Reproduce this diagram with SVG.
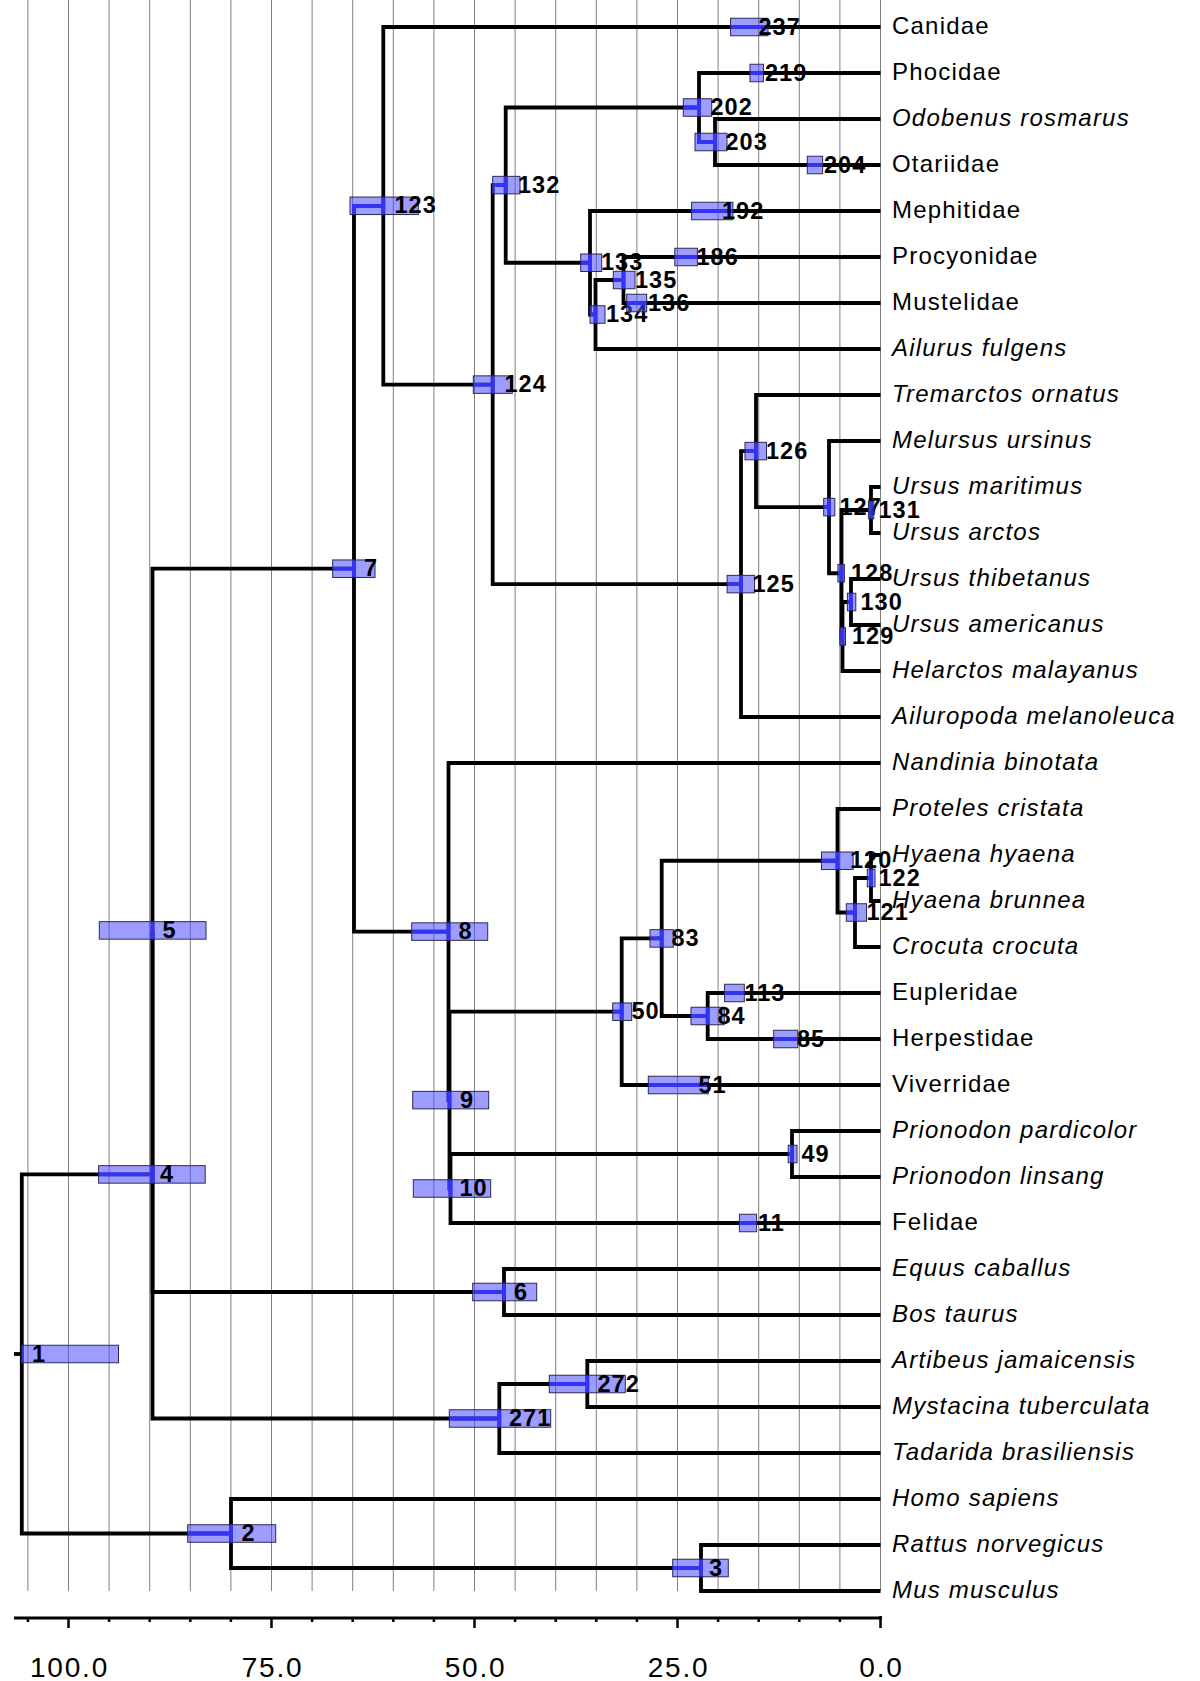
<svg xmlns="http://www.w3.org/2000/svg" xmlns:xlink="http://www.w3.org/1999/xlink" width="1200" height="1681" viewBox="0 0 1200 1681">
<style>
.grid line{stroke:#808080;stroke-width:1}
.hpd{fill:#4d4dff;fill-opacity:0.55;stroke:#2b2b55;stroke-width:1}
.nlab{font-family:"Liberation Sans",Arial,sans-serif;font-weight:bold;font-size:23.5px;letter-spacing:1px;fill:#000}
.leaf{font-family:"Liberation Sans",Arial,sans-serif;font-size:24px;letter-spacing:1.2px;fill:#000}
.it{font-style:italic}
.axl{font-family:"Liberation Sans",Arial,sans-serif;font-size:28px;letter-spacing:1.8px;fill:#000;text-anchor:middle}
</style>
<defs>
<clipPath id="boxclip">
<rect x="21.8" y="1345.25" width="96.7" height="17.5"/><rect x="187.7" y="1524.75" width="88" height="17.5"/><rect x="672.7" y="1559.25" width="55.6" height="17.5"/><rect x="98.6" y="1165.65" width="106.6" height="17.5"/><rect x="99.3" y="921.65" width="106.7" height="17.5"/><rect x="472.7" y="1283.25" width="64" height="17.5"/><rect x="332.7" y="559.95" width="42.3" height="17.5"/><rect x="411.7" y="922.85" width="76" height="17.5"/><rect x="412.7" y="1091.35" width="76" height="17.5"/><rect x="413.3" y="1179.75" width="77.4" height="17.5"/><rect x="739.4" y="1214.25" width="17.2" height="17.5"/><rect x="788.2" y="1145.25" width="8.8" height="17.5"/><rect x="612.7" y="1002.95" width="19" height="17.5"/><rect x="648.3" y="1076.25" width="60" height="17.5"/><rect x="650" y="929.65" width="23.3" height="17.5"/><rect x="691" y="1007.25" width="33.3" height="17.5"/><rect x="773.7" y="1030.25" width="24.1" height="17.5"/><rect x="724.6" y="984.25" width="19.7" height="17.5"/><rect x="821.5" y="852" width="31.6" height="17.5"/><rect x="846.3" y="903.75" width="20.2" height="17.5"/><rect x="867.3" y="869.25" width="7.7" height="17.5"/><rect x="350" y="197.05" width="68.3" height="17.5"/><rect x="473.3" y="375.85" width="39" height="17.5"/><rect x="727.1" y="575.35" width="27.5" height="17.5"/><rect x="745" y="442.35" width="21.5" height="17.5"/><rect x="823.7" y="498.35" width="11.1" height="17.5"/><rect x="837.9" y="564.5" width="6.5" height="17.5"/><rect x="839.8" y="627.75" width="5.7" height="17.5"/><rect x="847.4" y="593.25" width="8.4" height="17.5"/><rect x="868.4" y="501.25" width="5.4" height="17.5"/><rect x="492.7" y="176.35" width="27.3" height="17.5"/><rect x="580.7" y="254" width="21" height="17.5"/><rect x="590" y="305.75" width="15" height="17.5"/><rect x="613.3" y="271.25" width="21.7" height="17.5"/><rect x="626.7" y="294.25" width="20" height="17.5"/><rect x="674.8" y="248.25" width="22.6" height="17.5"/><rect x="691.6" y="202.25" width="41.3" height="17.5"/><rect x="683.3" y="98.75" width="28.4" height="17.5"/><rect x="695" y="133.25" width="32" height="17.5"/><rect x="807.3" y="156.25" width="15.3" height="17.5"/><rect x="750" y="64.25" width="13.4" height="17.5"/><rect x="730.6" y="18.25" width="37.4" height="17.5"/><rect x="449.3" y="1409.75" width="101.4" height="17.5"/><rect x="549.3" y="1375.25" width="76" height="17.5"/>
</clipPath>
</defs>
<rect x="0" y="0" width="1200" height="1681" fill="#fff"/>
<g id="grid" class="grid">
<line x1="880.5" y1="0" x2="880.5" y2="1591"/><line x1="839.9" y1="0" x2="839.9" y2="1591"/><line x1="799.3" y1="0" x2="799.3" y2="1591"/><line x1="758.7" y1="0" x2="758.7" y2="1591"/><line x1="718.1" y1="0" x2="718.1" y2="1591"/><line x1="677.5" y1="0" x2="677.5" y2="1591"/><line x1="636.9" y1="0" x2="636.9" y2="1591"/><line x1="596.3" y1="0" x2="596.3" y2="1591"/><line x1="555.7" y1="0" x2="555.7" y2="1591"/><line x1="515.1" y1="0" x2="515.1" y2="1591"/><line x1="474.5" y1="0" x2="474.5" y2="1591"/><line x1="433.9" y1="0" x2="433.9" y2="1591"/><line x1="393.3" y1="0" x2="393.3" y2="1591"/><line x1="352.7" y1="0" x2="352.7" y2="1591"/><line x1="312.1" y1="0" x2="312.1" y2="1591"/><line x1="271.5" y1="0" x2="271.5" y2="1591"/><line x1="230.9" y1="0" x2="230.9" y2="1591"/><line x1="190.3" y1="0" x2="190.3" y2="1591"/><line x1="149.7" y1="0" x2="149.7" y2="1591"/><line x1="109.1" y1="0" x2="109.1" y2="1591"/><line x1="68.5" y1="0" x2="68.5" y2="1591"/><line x1="27.9" y1="0" x2="27.9" y2="1591"/>
</g>
<g id="axis" stroke="#000" fill="none">
<line x1="14" y1="1618" x2="882" y2="1618" stroke-width="3"/>
<g stroke-width="2.5">
<line x1="880.5" y1="1616" x2="880.5" y2="1628"/><line x1="839.9" y1="1618" x2="839.9" y2="1622"/><line x1="799.3" y1="1618" x2="799.3" y2="1622"/><line x1="758.7" y1="1618" x2="758.7" y2="1622"/><line x1="718.1" y1="1618" x2="718.1" y2="1622"/><line x1="677.5" y1="1618" x2="677.5" y2="1628"/><line x1="636.9" y1="1618" x2="636.9" y2="1622"/><line x1="596.3" y1="1618" x2="596.3" y2="1622"/><line x1="555.7" y1="1618" x2="555.7" y2="1622"/><line x1="515.1" y1="1618" x2="515.1" y2="1622"/><line x1="474.5" y1="1618" x2="474.5" y2="1628"/><line x1="433.9" y1="1618" x2="433.9" y2="1622"/><line x1="393.3" y1="1618" x2="393.3" y2="1622"/><line x1="352.7" y1="1618" x2="352.7" y2="1622"/><line x1="312.1" y1="1618" x2="312.1" y2="1622"/><line x1="271.5" y1="1618" x2="271.5" y2="1628"/><line x1="230.9" y1="1618" x2="230.9" y2="1622"/><line x1="190.3" y1="1618" x2="190.3" y2="1622"/><line x1="149.7" y1="1618" x2="149.7" y2="1622"/><line x1="109.1" y1="1618" x2="109.1" y2="1622"/><line x1="68.5" y1="1618" x2="68.5" y2="1628"/><line x1="27.9" y1="1618" x2="27.9" y2="1622"/>
</g>
</g>
<g id="axis-labels">
<text class="axl" x="69.5" y="1677">100.0</text><text class="axl" x="272.5" y="1677">75.0</text><text class="axl" x="475.5" y="1677">50.0</text><text class="axl" x="678.5" y="1677">25.0</text><text class="axl" x="881.5" y="1677">0.0</text>
</g>
<g fill="none" stroke="#000" stroke-width="3.8" stroke-linejoin="miter">
<g id="connectors">
<path d="M14 1354H21.8"/>
<path d="M152.5 1174.4H21.8V1533.5H231"/>
<path d="M880.5 1499H231V1568H701"/>
<path d="M880.5 1545H701V1591H880.5"/>
<path d="M152.5 930.4V1418.5H499.3"/>
<path d="M354 568.7H152.5V1292H504"/>
<path d="M880.5 1269H504V1315H880.5"/>
<path d="M383.3 205.8H354V931.6H448.5"/>
<path d="M880.5 763H448.5V1100.1H449.5"/>
<path d="M621.7 1011.7H449.5V1188.5H450.5"/>
<path d="M792 1154H450.5V1223H880.5"/>
<path d="M880.5 1131H792V1177H880.5"/>
<path d="M661.7 938.4H621.7V1085H880.5"/>
<path d="M837.5 860.75H661.7V1016H707.7"/>
<path d="M880.5 993H707.7V1039H880.5"/>
<path d="M880.5 809H837.5V912.5H855"/>
<path d="M871 878H855V947H880.5"/>
<path d="M880.5 855H871V901H880.5"/>
<path d="M880.5 27H383.3V384.6H492.7"/>
<path d="M505.7 185.1H492.7V584.1H741"/>
<path d="M699 107.5H505.7V262.75H590"/>
<path d="M880.5 73H699V142H715"/>
<path d="M880.5 119H715V165H880.5"/>
<path d="M880.5 211H590V314.5H595.5"/>
<path d="M623.5 280H595.5V349H880.5"/>
<path d="M880.5 257H623.5V303H880.5"/>
<path d="M756 451.1H741V717H880.5"/>
<path d="M880.5 395H756V507.1H829"/>
<path d="M880.5 441H829V573.25H841.5"/>
<path d="M871 510H841.5V636.5H842.5"/>
<path d="M851 602H842.5V671H880.5"/>
<path d="M880.5 579H851V625H880.5"/>
<path d="M880.5 487H871V533H880.5"/>
<path d="M587.3 1384H499.3V1453H880.5"/>
<path d="M880.5 1361H587.3V1407H880.5"/>
</g>
</g>
<use xlink:href="#connectors" href="#connectors" fill="none" stroke="#1414e6" stroke-width="3.8" clip-path="url(#boxclip)"/>
<g id="nodes">
<g id="node-1"><rect class="hpd" x="21.8" y="1345.25" width="96.7" height="17.5"/><text class="nlab" x="32" y="1361.5">1</text></g>
<g id="node-2"><rect class="hpd" x="187.7" y="1524.75" width="88" height="17.5"/><text class="nlab" x="241.5" y="1541">2</text></g>
<g id="node-3"><rect class="hpd" x="672.7" y="1559.25" width="55.6" height="17.5"/><text class="nlab" x="709" y="1575.5">3</text></g>
<g id="node-4"><rect class="hpd" x="98.6" y="1165.65" width="106.6" height="17.5"/><text class="nlab" x="160" y="1182">4</text></g>
<g id="node-5"><rect class="hpd" x="99.3" y="921.65" width="106.7" height="17.5"/><text class="nlab" x="162.5" y="938">5</text></g>
<g id="node-6"><rect class="hpd" x="472.7" y="1283.25" width="64" height="17.5"/><text class="nlab" x="514" y="1299.5">6</text></g>
<g id="node-7"><rect class="hpd" x="332.7" y="559.95" width="42.3" height="17.5"/><text class="nlab" x="364" y="576.2">7</text></g>
<g id="node-8"><rect class="hpd" x="411.7" y="922.85" width="76" height="17.5"/><text class="nlab" x="458.5" y="939.1">8</text></g>
<g id="node-9"><rect class="hpd" x="412.7" y="1091.35" width="76" height="17.5"/><text class="nlab" x="460" y="1107.6">9</text></g>
<g id="node-10"><rect class="hpd" x="413.3" y="1179.75" width="77.4" height="17.5"/><text class="nlab" x="459.5" y="1196">10</text></g>
<g id="node-11"><rect class="hpd" x="739.4" y="1214.25" width="17.2" height="17.5"/><text class="nlab" x="758" y="1230.5">11</text></g>
<g id="node-49"><rect class="hpd" x="788.2" y="1145.25" width="8.8" height="17.5"/><text class="nlab" x="801.5" y="1161.5">49</text></g>
<g id="node-50"><rect class="hpd" x="612.7" y="1002.95" width="19" height="17.5"/><text class="nlab" x="631.5" y="1019.2">50</text></g>
<g id="node-51"><rect class="hpd" x="648.3" y="1076.25" width="60" height="17.5"/><text class="nlab" x="698.5" y="1092.5">51</text></g>
<g id="node-83"><rect class="hpd" x="650" y="929.65" width="23.3" height="17.5"/><text class="nlab" x="671.5" y="945.9">83</text></g>
<g id="node-84"><rect class="hpd" x="691" y="1007.25" width="33.3" height="17.5"/><text class="nlab" x="717.5" y="1023.5">84</text></g>
<g id="node-85"><rect class="hpd" x="773.7" y="1030.25" width="24.1" height="17.5"/><text class="nlab" x="797" y="1046.5">85</text></g>
<g id="node-113"><rect class="hpd" x="724.6" y="984.25" width="19.7" height="17.5"/><text class="nlab" x="744.5" y="1000.5">113</text></g>
<g id="node-120"><rect class="hpd" x="821.5" y="852" width="31.6" height="17.5"/><text class="nlab" x="850" y="868.25">120</text></g>
<g id="node-121"><rect class="hpd" x="846.3" y="903.75" width="20.2" height="17.5"/><text class="nlab" x="866.5" y="920">121</text></g>
<g id="node-122"><rect class="hpd" x="867.3" y="869.25" width="7.7" height="17.5"/><text class="nlab" x="878.5" y="885.5">122</text></g>
<g id="node-123"><rect class="hpd" x="350" y="197.05" width="68.3" height="17.5"/><text class="nlab" x="394.5" y="213.3">123</text></g>
<g id="node-124"><rect class="hpd" x="473.3" y="375.85" width="39" height="17.5"/><text class="nlab" x="504.5" y="392.1">124</text></g>
<g id="node-125"><rect class="hpd" x="727.1" y="575.35" width="27.5" height="17.5"/><text class="nlab" x="752.5" y="591.6">125</text></g>
<g id="node-126"><rect class="hpd" x="745" y="442.35" width="21.5" height="17.5"/><text class="nlab" x="766" y="458.6">126</text></g>
<g id="node-127"><rect class="hpd" x="823.7" y="498.35" width="11.1" height="17.5"/><text class="nlab" x="839.5" y="514.6">127</text></g>
<g id="node-128"><rect class="hpd" x="837.9" y="564.5" width="6.5" height="17.5"/><text class="nlab" x="851" y="580.75">128</text></g>
<g id="node-129"><rect class="hpd" x="839.8" y="627.75" width="5.7" height="17.5"/><text class="nlab" x="852" y="644">129</text></g>
<g id="node-130"><rect class="hpd" x="847.4" y="593.25" width="8.4" height="17.5"/><text class="nlab" x="860.5" y="609.5">130</text></g>
<g id="node-131"><rect class="hpd" x="868.4" y="501.25" width="5.4" height="17.5"/><text class="nlab" x="878.5" y="517.5">131</text></g>
<g id="node-132"><rect class="hpd" x="492.7" y="176.35" width="27.3" height="17.5"/><text class="nlab" x="518" y="192.6">132</text></g>
<g id="node-133"><rect class="hpd" x="580.7" y="254" width="21" height="17.5"/><text class="nlab" x="601" y="270.25">133</text></g>
<g id="node-134"><rect class="hpd" x="590" y="305.75" width="15" height="17.5"/><text class="nlab" x="606" y="322">134</text></g>
<g id="node-135"><rect class="hpd" x="613.3" y="271.25" width="21.7" height="17.5"/><text class="nlab" x="635" y="287.5">135</text></g>
<g id="node-136"><rect class="hpd" x="626.7" y="294.25" width="20" height="17.5"/><text class="nlab" x="648" y="310.5">136</text></g>
<g id="node-186"><rect class="hpd" x="674.8" y="248.25" width="22.6" height="17.5"/><text class="nlab" x="696.5" y="264.5">186</text></g>
<g id="node-192"><rect class="hpd" x="691.6" y="202.25" width="41.3" height="17.5"/><text class="nlab" x="722" y="218.5">192</text></g>
<g id="node-202"><rect class="hpd" x="683.3" y="98.75" width="28.4" height="17.5"/><text class="nlab" x="710.5" y="115">202</text></g>
<g id="node-203"><rect class="hpd" x="695" y="133.25" width="32" height="17.5"/><text class="nlab" x="725.5" y="149.5">203</text></g>
<g id="node-204"><rect class="hpd" x="807.3" y="156.25" width="15.3" height="17.5"/><text class="nlab" x="824" y="172.5">204</text></g>
<g id="node-219"><rect class="hpd" x="750" y="64.25" width="13.4" height="17.5"/><text class="nlab" x="765" y="80.5">219</text></g>
<g id="node-237"><rect class="hpd" x="730.6" y="18.25" width="37.4" height="17.5"/><text class="nlab" x="758.5" y="34.5">237</text></g>
<g id="node-271"><rect class="hpd" x="449.3" y="1409.75" width="101.4" height="17.5"/><text class="nlab" x="509" y="1426">271</text></g>
<g id="node-272"><rect class="hpd" x="549.3" y="1375.25" width="76" height="17.5"/><text class="nlab" x="597.5" y="1391.5">272</text></g>
</g>
<g id="leaves">
<g id="leaf-canidae"><text class="leaf" x="892" y="34">Canidae</text></g>
<g id="leaf-phocidae"><text class="leaf" x="892" y="80">Phocidae</text></g>
<g id="leaf-odobenus"><text class="leaf it" x="892" y="126">Odobenus rosmarus</text></g>
<g id="leaf-otariidae"><text class="leaf" x="892" y="172">Otariidae</text></g>
<g id="leaf-mephitidae"><text class="leaf" x="892" y="218">Mephitidae</text></g>
<g id="leaf-procyonidae"><text class="leaf" x="892" y="264">Procyonidae</text></g>
<g id="leaf-mustelidae"><text class="leaf" x="892" y="310">Mustelidae</text></g>
<g id="leaf-ailurus"><text class="leaf it" x="892" y="356">Ailurus fulgens</text></g>
<g id="leaf-tremarctos"><text class="leaf it" x="892" y="402">Tremarctos ornatus</text></g>
<g id="leaf-melursus"><text class="leaf it" x="892" y="448">Melursus ursinus</text></g>
<g id="leaf-ursus-maritimus"><text class="leaf it" x="892" y="494">Ursus maritimus</text></g>
<g id="leaf-ursus-arctos"><text class="leaf it" x="892" y="540">Ursus arctos</text></g>
<g id="leaf-ursus-thibetanus"><text class="leaf it" x="892" y="586">Ursus thibetanus</text></g>
<g id="leaf-ursus-americanus"><text class="leaf it" x="892" y="632">Ursus americanus</text></g>
<g id="leaf-helarctos"><text class="leaf it" x="892" y="678">Helarctos malayanus</text></g>
<g id="leaf-ailuropoda"><text class="leaf it" x="892" y="724">Ailuropoda melanoleuca</text></g>
<g id="leaf-nandinia"><text class="leaf it" x="892" y="770">Nandinia binotata</text></g>
<g id="leaf-proteles"><text class="leaf it" x="892" y="816">Proteles cristata</text></g>
<g id="leaf-hyaena-hyaena"><text class="leaf it" x="892" y="862">Hyaena hyaena</text></g>
<g id="leaf-hyaena-brunnea"><text class="leaf it" x="892" y="908">Hyaena brunnea</text></g>
<g id="leaf-crocuta"><text class="leaf it" x="892" y="954">Crocuta crocuta</text></g>
<g id="leaf-eupleridae"><text class="leaf" x="892" y="1000">Eupleridae</text></g>
<g id="leaf-herpestidae"><text class="leaf" x="892" y="1046">Herpestidae</text></g>
<g id="leaf-viverridae"><text class="leaf" x="892" y="1092">Viverridae</text></g>
<g id="leaf-prionodon-pardicolor"><text class="leaf it" x="892" y="1138">Prionodon pardicolor</text></g>
<g id="leaf-prionodon-linsang"><text class="leaf it" x="892" y="1184">Prionodon linsang</text></g>
<g id="leaf-felidae"><text class="leaf" x="892" y="1230">Felidae</text></g>
<g id="leaf-equus"><text class="leaf it" x="892" y="1276">Equus caballus</text></g>
<g id="leaf-bos"><text class="leaf it" x="892" y="1322">Bos taurus</text></g>
<g id="leaf-artibeus"><text class="leaf it" x="892" y="1368">Artibeus jamaicensis</text></g>
<g id="leaf-mystacina"><text class="leaf it" x="892" y="1414">Mystacina tuberculata</text></g>
<g id="leaf-tadarida"><text class="leaf it" x="892" y="1460">Tadarida brasiliensis</text></g>
<g id="leaf-homo"><text class="leaf it" x="892" y="1506">Homo sapiens</text></g>
<g id="leaf-rattus"><text class="leaf it" x="892" y="1552">Rattus norvegicus</text></g>
<g id="leaf-mus"><text class="leaf it" x="892" y="1598">Mus musculus</text></g>
</g>
</svg>
